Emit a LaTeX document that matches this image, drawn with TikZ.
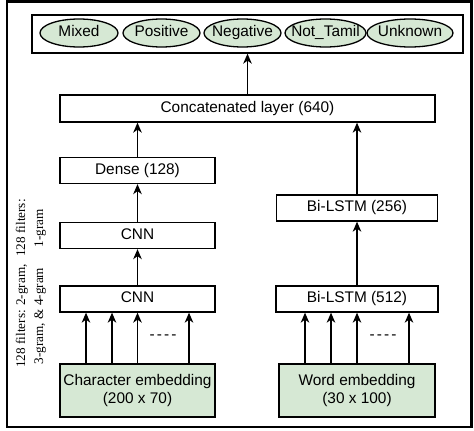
\documentclass[tikz,border=0pt]{standalone}
\usepackage{fontspec}
\setmainfont{Liberation Sans}
\newfontfamily\serifnote{Liberation Serif}
\usetikzlibrary{arrows.meta,shapes.geometric}
\definecolor{lgreen}{RGB}{214,232,212}
\tikzset{
  box/.style={draw, line width=1.3pt, rectangle, inner sep=0pt, font=\fontsize{15.4}{18}\selectfont},
  one/.style={text height=11pt, text depth=3.3pt},
  lbl/.style={draw, line width=1.3pt, ellipse, inner sep=0pt, fill=lgreen, minimum height=28pt},
  lbltext/.style={font=\fontsize{15.4}{18}\selectfont, text height=11pt, text depth=3.3pt, inner sep=0pt},
  arr/.style={line width=1.3pt, -{Stealth[length=10pt,width=8.5pt,inset=3pt]}},
  note/.style={rotate=90, align=center, font=\serifnote\fontsize{13.2}{18}\selectfont}
}
\newcommand{\mydashes}{-\kern2.1pt-\kern2.1pt-\kern2.1pt-}
\begin{document}
\begin{tikzpicture}[x=1pt,y=-1pt]
\useasboundingbox (0,0) rectangle (474,431);
\draw[line width=2.2pt] (7,1.5) rectangle (471.5,427);
% output
\node[box, minimum width=431pt, minimum height=38pt] (out) at (247.5,34) {};
\node[lbl, minimum width=78pt, label={[lbltext]center:Mixed}] (mixed) at (79,33) {};
\node[lbl, minimum width=77pt, label={[lbltext]center:Positive}] (pos) at (161.5,33) {};
\node[lbl, minimum width=77pt, label={[lbltext]center:Negative}] (neg) at (242.5,33) {};
\node[lbl, minimum width=81pt, label={[lbltext]center:Not\_Tamil}] (nt) at (325.5,33) {};
\node[lbl, minimum width=86pt, label={[lbltext]center:Unknown}] (unk) at (410,33) {};
% layers
\node[box, one, minimum width=375pt, minimum height=27pt] (concat) at (247.5,108.5) {Concatenated layer (640)};
\node[box, one, minimum width=155pt, minimum height=26pt] (dense) at (137.5,170.5) {Dense (128)};
\node[box, one, minimum width=155pt, minimum height=26pt] (cnna) at (137.5,235.5) {CNN};
\node[box, one, minimum width=155pt, minimum height=26pt] (cnnb) at (137.5,299) {CNN};
\node[box, minimum width=155pt, minimum height=53pt, fill=lgreen, align=center] (char) at (137.5,390.5) {Character embedding\\(200 x 70)};
\node[box, one, minimum width=161pt, minimum height=26pt] (bla) at (357,208) {Bi-LSTM (256)};
\node[box, one, minimum width=162pt, minimum height=26pt] (blb) at (357,299) {Bi-LSTM (512)};
\node[box, minimum width=156pt, minimum height=53pt, fill=lgreen, align=center] (word) at (357,390.5) {Word embedding\\(30 x 100)};
% notes
\node[note] (n1) at (31,228) {128 filters:\\1-gram};
\node[note] (n2) at (31,316) {128 filters: 2-gram,\\3-gram, \& 4-gram};
% dashes
\node[font=\fontsize{15.4}{18}\selectfont, inner sep=0pt] (d1) at (163,337) {\mydashes};
\node[font=\fontsize{15.4}{18}\selectfont, inner sep=0pt] (d2) at (383,337) {\mydashes};
% arrows
\draw[arr] (concat.north) -- (out.south);
\draw[arr] (dense.north) -- (dense.north |- concat.south);
\draw[arr] (bla.north) -- (bla.north |- concat.south);
\draw[arr] (cnna) -- (dense);
\draw[arr] (cnnb) -- (cnna);
\draw[arr] (blb) -- (bla);
\foreach \dx in {-51.5,-25.5,0,51.5}{
  \draw[arr] ([xshift=\dx pt]char.north) -- ([xshift=\dx pt]cnnb.south);
}
\foreach \dx in {-52,-26,0,52}{
  \draw[arr] ([xshift=\dx pt]word.north) -- ([xshift=\dx pt]blb.south);
}
\end{tikzpicture}
\end{document}
